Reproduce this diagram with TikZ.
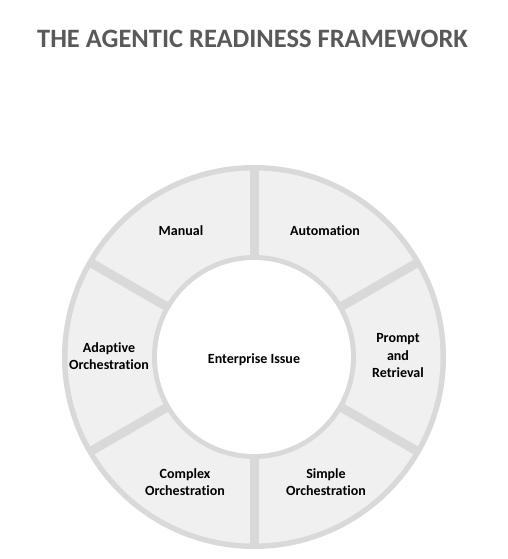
\documentclass[tikz,border=0pt]{standalone}
\usepackage{fontspec}
\setmainfont{Carlito}[Ligatures=NoCommon]
\usetikzlibrary{calc}
\definecolor{ringgray}{HTML}{D9D9D9}
\definecolor{seglight}{HTML}{F0F0F0}
\definecolor{titlegray}{HTML}{595959}
\begin{document}
\begin{tikzpicture}[x=1pt,y=1pt,
  seglabel/.style={font=\bfseries\fontsize{14}{17.5}\selectfont, align=center, text=black, inner sep=0pt},
  titlestyle/.style={font=\bfseries\fontsize{26.5}{30}\selectfont, text=titlegray, inner sep=0pt},
  separator/.style={draw=ringgray, line width=9pt}]
\useasboundingbox (0,0) rectangle (508,559);
\fill[white] (0,0) rectangle (508,559);
\coordinate (C) at (254,202);
\node[titlestyle] (title) at (252.5,520) {THE AGENTIC READINESS FRAMEWORK};
% ring
\fill[ringgray] (C) circle (192);
\fill[seglight] (C) circle (186.5);
\foreach \a in {90,30,-30,-90,-150,150}{
  \draw[separator] ($(C)+(\a:97)$) -- ($(C)+(\a:190)$);
}
\fill[ringgray] (C) circle (102);
\node[circle, fill=white, minimum size=194pt, inner sep=0pt] (core) at (C) {};
\node[seglabel] (issue) at (254,199) {Enterprise Issue};
\node[seglabel] (manual) at (181,328) {Manual};
\node[seglabel] (auto) at (325,328) {Automation};
\node[seglabel] (prompt) at (398,203) {Prompt\\and\\Retrieval};
\node[seglabel] (simple) at (326,77) {Simple\\Orchestration};
\node[seglabel] (complex) at (185,77) {Complex\\Orchestration};
\node[seglabel] (adaptive) at (109,203) {Adaptive\\Orchestration};
\end{tikzpicture}
\end{document}
